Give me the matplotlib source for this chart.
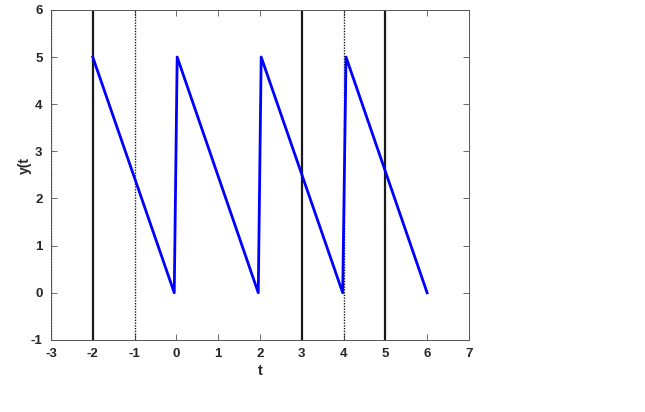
import matplotlib
matplotlib.use("Agg")
import matplotlib.pyplot as plt

# sawtooth samples
t = [-2, -0.05, 0.02, 1.96, 2.03, 3.98, 4.06, 6]
y = [5, 0, 5, 0, 5, 0, 5, 0]

solid_lines = [-2, 3, 5]
dotted_lines = [-3, -1, 4]

xticks = list(range(-3, 8))
yticks = list(range(-1, 7))

plt.rcParams['font.family'] = ['Liberation Sans', 'DejaVu Sans']
plt.rcParams['font.weight'] = 'bold'
plt.rcParams['axes.unicode_minus'] = False

fig = plt.figure(figsize=(6.45, 4.12), dpi=100)
ax = fig.add_axes([0.079, 0.175, 0.648, 0.801])

for x in solid_lines:
    ax.axvline(x, color='#1a1a1a', lw=1.6)
for x in dotted_lines:
    ax.axvline(x, color='#1a1a1a', lw=1.0, ls=(0, (1, 1)))

ax.plot(t, y, color='#0000ff', lw=2)

ax.set_xlim(-3, 7)
ax.set_ylim(-1, 6)
ax.set_xticks(xticks)
ax.set_yticks(yticks)
ax.tick_params(direction='in', length=4, width=0.6, color='#555555',
               labelsize=9.5, top=True, right=True, pad=6)
for lab in ax.get_xticklabels() + ax.get_yticklabels():
    lab.set_fontweight('bold')
    lab.set_color('#262626')
for s in ax.spines.values():
    s.set_color('#555555')
    s.set_linewidth(0.7)

ax.set_xlabel('t', fontsize=10.5, fontweight='bold', color='#262626', labelpad=3)
ax.set_ylabel('y(t', fontsize=10, fontweight='bold', color='#262626')
ax.yaxis.set_label_coords(-0.045, 0.527)

fig.savefig('out.png', dpi=100)
